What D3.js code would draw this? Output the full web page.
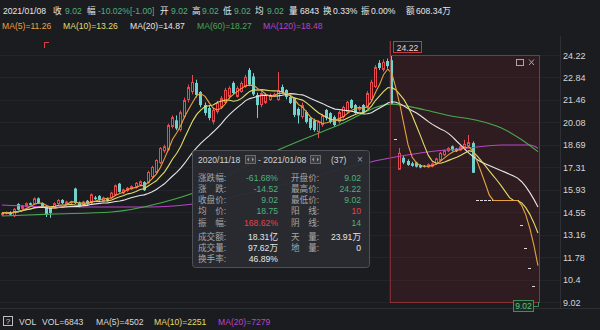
<!DOCTYPE html>
<html>
<head>
<meta charset="utf-8">
<script src="https://cdn.jsdelivr.net/npm/d3@7"></script>
<style>
html, body { margin: 0; padding: 0; background: #1b1c20; }
svg text { font-family: "Liberation Sans", Arial, "Noto Sans CJK SC", sans-serif; }
</style>
</head>
<body>
<div id="chart"></div>
<script>
// Declare constants
const WIDTH = 600;
const HEIGHT = 330;
const PLOT = {left: 0, right: 540, top: 55, bottom: 302};
const AXIS_X = 563;

const BG = "#1b1c20";
const RED = "#e8494f";
const CYAN = "#6fd3cb";
const GREEN_TXT = "#4fb07c";
const GRID = "#24252a";

// daily candles, oldest first
const opens = [
  14.35,14.45,14.55,14.30,15.05,14.75,14.90,15.10,15.05,15.40,
  15.10,14.90,14.80,14.85,15.05,15.30,15.00,15.10,16.00,15.15,
  14.95,15.25,15.10,15.45,15.55,15.20,15.40,15.40,15.60,16.30,
  15.70,15.85,15.95,16.05,16.20,16.40,16.34,16.71,16.96,17.57,
  18.30,18.37,19.79,20.20,19.60,20.40,21.45,21.94,22.50,21.94,
  21.14,20.96,20.10,20.71,20.96,21.27,21.64,22.50,21.64,21.94,
  22.25,23.30,22.90,21.76,21.14,21.27,21.45,21.76,21.45,22.25,
  22.07,21.64,21.57,20.90,20.40,20.71,20.34,20.20,19.48,19.90,
  20.84,20.65,20.40,20.10,20.40,20.71,21.45,21.14,20.84,21.14,
  20.96,21.45,22.25,23.73,23.30,23.85,23.90,19.07,17.16,17.90,
  17.70,17.55,17.60,17.45,17.40,17.30,17.35,17.50,17.70,18.05,
  18.30,18.60,18.45,18.35,18.50,18.60,18.80,15.27,15.27,15.27,
  15.27,15.27,15.27,15.27,15.27,15.27,15.27,15.27,13.74,12.37,
  11.13,10.02,9.02
];
const highs = [
  14.55,14.60,14.60,14.80,15.10,15.00,15.15,15.15,15.45,15.45,
  15.15,14.95,14.85,15.15,15.35,15.35,15.25,15.25,16.05,15.20,
  15.25,15.30,15.70,15.55,15.60,15.50,15.45,15.80,16.25,16.35,
  16.00,16.10,16.20,16.40,16.50,16.45,17.10,17.40,17.80,18.55,
  18.70,20.00,20.50,20.50,20.80,21.60,22.40,22.99,22.70,22.00,
  21.30,21.10,21.00,21.40,21.70,22.20,22.30,22.60,22.30,22.60,
  23.00,23.42,23.10,21.90,22.00,21.90,21.85,21.90,23.17,22.40,
  22.10,21.70,21.60,21.00,21.30,20.80,20.40,20.30,20.20,20.60,
  20.90,20.70,20.50,20.80,21.10,21.40,21.50,21.20,21.10,21.20,
  22.00,22.70,23.60,23.90,23.95,24.00,24.22,19.07,18.50,18.00,
  17.80,17.65,17.65,17.50,17.45,17.55,17.60,17.90,18.25,18.40,
  18.55,18.65,18.50,18.65,19.00,19.30,18.90,15.27,15.27,15.27,
  15.27,15.27,15.27,15.27,15.27,15.27,15.27,15.27,13.74,12.37,
  11.13,10.02,9.02
];
const lows = [
  14.30,14.40,14.35,14.25,14.65,14.70,14.85,14.95,15.00,15.05,
  14.85,14.25,14.20,14.80,15.00,15.05,14.95,15.05,15.05,14.85,
  14.90,15.00,15.05,15.30,15.25,15.15,15.20,15.35,15.55,15.75,
  15.65,15.80,15.90,16.00,16.15,15.85,16.30,16.65,16.90,17.50,
  18.20,18.30,19.70,19.60,19.50,20.30,21.30,21.80,21.60,21.00,
  20.50,20.20,19.95,20.60,20.90,21.20,21.50,21.80,21.60,21.90,
  22.20,22.30,21.70,20.34,21.00,21.20,21.40,21.65,21.40,21.85,
  21.50,21.20,20.40,20.00,20.30,20.00,19.60,19.50,19.11,19.80,
  20.20,20.00,19.80,20.00,20.30,20.60,20.90,20.60,20.75,20.60,
  20.90,21.40,22.20,23.30,23.20,23.40,21.19,19.07,17.16,17.50,
  17.40,17.35,17.30,17.25,17.30,17.25,17.30,17.45,17.65,18.00,
  18.25,18.30,18.25,18.30,18.45,18.55,16.97,15.27,15.27,15.27,
  15.27,15.27,15.27,15.27,15.27,15.27,15.27,15.27,13.74,12.37,
  11.13,10.02,9.02
];
const closes = [
  14.50,14.55,14.40,14.75,14.70,14.95,15.10,15.00,15.40,15.10,
  14.90,14.40,14.50,15.10,15.30,15.10,15.20,15.20,15.10,14.90,
  15.20,15.05,15.65,15.35,15.30,15.45,15.25,15.75,16.20,15.80,
  15.95,16.05,16.15,16.35,16.45,15.90,17.02,17.33,17.76,18.50,
  18.60,19.91,20.40,19.70,20.70,21.45,22.25,22.56,21.76,21.14,
  20.65,20.34,20.84,21.27,21.57,22.07,22.19,21.88,22.19,22.50,
  22.87,22.40,21.80,21.14,21.88,21.76,21.76,21.82,22.07,21.94,
  21.64,21.27,20.53,20.50,21.14,20.10,19.73,19.60,20.10,20.50,
  20.34,20.10,19.91,20.71,21.02,21.33,20.96,20.65,21.02,20.71,
  21.88,22.56,23.48,23.42,23.79,23.54,21.19,19.07,18.20,17.60,
  17.45,17.40,17.35,17.30,17.35,17.50,17.55,17.85,18.20,18.35,
  18.50,18.35,18.30,18.60,18.75,18.86,16.97,15.27,15.27,15.27,
  15.27,15.27,15.27,15.27,15.27,15.27,15.27,15.27,13.74,12.37,
  11.13,10.02,9.02
];

// long averages need history the picture does not show
const ma60Points = [[0,14.31],[12,14.43],[27,14.56],[39,15.11],[49,15.91],[59,17.27],[68,18.37],
  [83,19.91],[96,21.2],[104,20.85],[110,20.5],[117,20.2],[123,19.73],[128,19.0],[132,18.27]];
const ma120Points = [[0,14.99],[14,14.87],[36,14.87],[49,15.11],[64,15.91],[78,16.84],[93,17.76],
  [103,18.19],[115,18.5],[123,18.68],[130,18.68],[132,18.48]];

// selected range 2020/11/18 - 2021/01/08
const rangeStart = 96;
const rangeEnd = 132;

const priceTicks = ["24.22","22.84","21.46","20.08","18.69","17.31","15.93","14.55","13.16","11.78","10.4","9.02"];

const headerText = ["2021/01/08","收","9.02","幅","-10.02%[-1.00]","开","9.02","高","9.02","低","9.02","均","9.02","量","6843","换","0.33%","振","0.00%","额","608.34万"];
const headerGreen = [false,false,true,false,true,false,true,false,true,false,true,false,true,false,false,false,false,false,false,false,false];
const HEADER_X = [3,53,65,87,98,160,171,192,202,223,234,255,267,289,300,323,333,361,371,406,416];

const maNames = ["MA(5)","MA(10)","MA(20)","MA(60)","MA(120)"];
const maLast = ["11.26","13.26","14.87","18.27","18.48"];
const MA_COLORS = ["#e8a33d","#e3dd6a","#e6e6e6","#4aa84e","#b745c8"];
const MA_X = [2,63,130,197,263];

const volText = ["VOL","VOL=6843","MA(5)=4502","MA(10)=2251","MA(20)=7279"];
const VOL_COLORS = ["#d8d8d8","#d8d8d8","#d8d8d8","#e3dd6a","#b745c8"];
const VOL_X = [19,42,96,154,218];

const statLabels = [["涨跌幅:","开盘价:"],["涨　跌:","最高价:"],["收盘价:","最低价:"],["均　价:","阳　线:"],
  ["振　幅:","阴　线:"],["成交额:","天　量:"],["成交量:","地　量:"],["换手率:",""]];
const statValues = [["-61.68%","9.02"],["-14.52","24.22"],["9.02","9.02"],["18.75","10"],
  ["168.62%","14"],["18.31亿","23.91万"],["97.62万","0"],["46.89%",""]];
const statColors = [["g","g"],["g","g"],["g","g"],["g","r"],["r","g"],["w","w"],["w","w"],["w","w"]];
const STAT_Y = [181, 192, 203, 214, 225.5, 240, 251, 262];

// svg
const svg = d3.select("#chart")
  .append("svg")
    .attr("width", WIDTH)
    .attr("height", HEIGHT);

svg.append("rect").attr("width", WIDTH).attr("height", HEIGHT).attr("fill", BG);

const x = d3.scaleBand()
  .domain(d3.range(closes.length))
  .range([PLOT.left, PLOT.right]);
const cx = i => Math.floor(x(i) + x.bandwidth() / 2);

const y = d3.scaleLinear()
  .domain([9.02, 24.22])
  .range([PLOT.bottom, PLOT.top]);

function addText(g, tx, ty, str, color, size, anchor) {
  return g.append("text")
    .attr("x", tx)
    .attr("y", ty)
    .attr("fill", color)
    .attr("font-size", size)
    .attr("text-anchor", anchor || "start")
    .text(str);
}

// grid + right axis
svg.append("g").selectAll("line")
  .data(priceTicks)
  .join("line")
    .attr("x1", 0).attr("x2", 560)
    .attr("y1", d => Math.round(y(+d)) + 0.5)
    .attr("y2", d => Math.round(y(+d)) + 0.5)
    .attr("stroke", GRID);

svg.append("g").selectAll("text")
  .data(priceTicks)
  .join("text")
    .attr("x", AXIS_X)
    .attr("y", d => y(+d) + 3.5)
    .attr("fill", "#d6d6d6")
    .attr("font-size", 9)
    .text(d => d);

svg.append("line").attr("x1", 560.5).attr("x2", 560.5).attr("y1", 36).attr("y2", 308)
  .attr("stroke", "#2e2f34");
svg.append("line").attr("x1", 0).attr("x2", WIDTH).attr("y1", 308.5).attr("y2", 308.5)
  .attr("stroke", "#2e2f34");

// selected range background
const boxX0 = x(rangeStart);
const boxX1 = x(rangeEnd) + x.bandwidth();
svg.append("rect")
  .attr("x", boxX0).attr("y", y(24.22))
  .attr("width", boxX1 - boxX0).attr("height", y(9.02) - y(24.22))
  .attr("fill", "rgba(125,30,38,0.2)");

// candles
const days = d3.range(closes.length);
const candle = svg.append("g").selectAll("g")
  .data(days)
  .join("g");

function candleColor(i) {
  if (closes[i] > opens[i]) return RED;
  if (closes[i] < opens[i]) return CYAN;
  return "#dcdcdc";
}

candle.filter(i => highs[i] !== lows[i])
  .append("line")
    .attr("x1", i => cx(i) + 0.5).attr("x2", i => cx(i) + 0.5)
    .attr("y1", i => y(highs[i])).attr("y2", i => y(lows[i]))
    .attr("stroke", candleColor);

// falling days: filled
candle.filter(i => closes[i] < opens[i])
  .append("rect")
    .attr("x", i => cx(i) - 1)
    .attr("width", 3)
    .attr("y", i => y(opens[i]))
    .attr("height", i => Math.max(1, y(closes[i]) - y(opens[i])))
    .attr("fill", CYAN);

// rising days: hollow
candle.filter(i => closes[i] > opens[i])
  .append("rect")
    .attr("x", i => cx(i) - 0.5)
    .attr("width", 2)
    .attr("y", i => y(closes[i]) + 0.5)
    .attr("height", i => Math.max(0.5, y(opens[i]) - y(closes[i]) - 1))
    .attr("fill", BG)
    .attr("stroke", RED);

// flat days
candle.filter(i => closes[i] === opens[i])
  .append("line")
    .attr("x1", i => cx(i) - 1).attr("x2", i => cx(i) + 2)
    .attr("y1", i => Math.round(y(closes[i])) + 0.5)
    .attr("y2", i => Math.round(y(closes[i])) + 0.5)
    .attr("stroke", "#dcdcdc");

// moving averages
function movingAverage(n) {
  return closes.map((c, i) => [i, d3.mean(closes.slice(Math.max(0, i - n + 1), i + 1))]);
}

const maLine = d3.line()
  .x(d => x(d[0]) + x.bandwidth() / 2)
  .y(d => y(d[1]));
const smoothLine = d3.line()
  .x(d => x(d[0]) + x.bandwidth() / 2)
  .y(d => y(d[1]))
  .curve(d3.curveMonotoneX);

const maSeries = [movingAverage(5), movingAverage(10), movingAverage(20)];
svg.append("path").datum(ma120Points).attr("d", smoothLine)
  .attr("fill", "none").attr("stroke", MA_COLORS[4]).attr("stroke-width", 1.1);
svg.append("path").datum(ma60Points).attr("d", smoothLine)
  .attr("fill", "none").attr("stroke", MA_COLORS[3]).attr("stroke-width", 1.1);
[2, 1, 0].forEach(k => {
  svg.append("path").datum(maSeries[k]).attr("d", maLine)
    .attr("fill", "none").attr("stroke", MA_COLORS[k]).attr("stroke-width", 1.1);
});

// range frame
svg.append("rect")
  .attr("x", boxX0 + 0.5).attr("y", Math.round(y(24.22)) + 0.5)
  .attr("width", boxX1 - boxX0 - 1).attr("height", y(9.02) - y(24.22))
  .attr("fill", "none")
  .attr("stroke", "#8c3236");
svg.append("line")
  .attr("x1", boxX0 + 0.5).attr("x2", boxX0 + 0.5)
  .attr("y1", 41).attr("y2", y(24.22))
  .attr("stroke", "#c0393d");

// window icons in the frame
svg.append("rect").attr("x", 516.5).attr("y", 59.5).attr("width", 7).attr("height", 6)
  .attr("fill", "none").attr("stroke", "#a8a8a8");
svg.append("path").attr("d", "M529,59.5 L534,65 M534,59.5 L529,65")
  .attr("stroke", "#a8a8a8");

// high label
svg.append("rect").attr("x", 393.5).attr("y", 41.5).attr("width", 28).attr("height", 11)
  .attr("fill", BG).attr("stroke", "#c9383d");
addText(svg, 407.5, 50.5, "24.22", "#ecd2d2", 8.5, "middle");

// last price label
svg.append("rect").attr("x", 513.5).attr("y", 300.5).attr("width", 20).attr("height", 11)
  .attr("fill", "#1c2a22").attr("stroke", "#3f8f55");
addText(svg, 523.5, 309.2, "9.02", "#5cc27c", 8.5, "middle");
svg.append("path").attr("d", "M533.5,306.5 H538.5 V302")
  .attr("fill", "none").attr("stroke", "#3f8f55");

// small red marker
svg.append("path").attr("d", "M44.5,48 V42.5 H49")
  .attr("fill", "none").attr("stroke", "#e04040");

// header
const header = svg.append("g");
headerText.forEach((t, k) => {
  addText(header, HEADER_X[k], 14, t, headerGreen[k] ? GREEN_TXT : "#e6e6e6", 8.6);
});
maNames.forEach((t, k) => {
  addText(header, MA_X[k], 29, t + "=" + maLast[k], MA_COLORS[k], 8.6);
});

// volume legend
const vol = svg.append("g");
vol.append("rect").attr("x", 3.5).attr("y", 316.5).attr("width", 9).attr("height", 9)
  .attr("fill", "none").attr("stroke", "#bdbdbd");
addText(vol, 8, 324, "?", "#d0d0d0", 8, "middle");
volText.forEach((t, k) => addText(vol, VOL_X[k], 324.5, t, VOL_COLORS[k], 8.6));

// statistics panel
const panel = svg.append("g");
panel.append("rect")
  .attr("x", 192.5).attr("y", 150.5).attr("width", 177).attr("height", 117).attr("rx", 3)
  .attr("fill", "#2a2b30").attr("fill-opacity", 0.97)
  .attr("stroke", "#505156");

addText(panel, 198, 163, "2020/11/18", "#d2d2d2", 8.6);
addText(panel, 258, 163, "- 2021/01/08", "#d2d2d2", 8.6);
addText(panel, 331, 163, "(37)", "#d2d2d2", 8.6);
addText(panel, 357, 163, "×", "#9a9a9a", 10);
[245, 310].forEach(sx => {
  panel.append("rect").attr("x", sx + 0.5).attr("y", 155.5).attr("width", 10).attr("height", 8)
    .attr("fill", "#3a3b40").attr("stroke", "#6a6a6e");
  panel.append("path")
    .attr("d", `M${sx + 4},157.5 L${sx + 2},159.5 L${sx + 4},161.5 Z M${sx + 7},157.5 L${sx + 9},159.5 L${sx + 7},161.5 Z`)
    .attr("fill", "#9a9a9a");
});

const VALUE_COLORS = {g: GREEN_TXT, r: "#e5424a", w: "#e6e6e6"};
statLabels.forEach((row, r) => {
  addText(panel, 198, STAT_Y[r], row[0], "#a6a6a6", 8.6);
  addText(panel, 278, STAT_Y[r], statValues[r][0], VALUE_COLORS[statColors[r][0]], 8.6, "end");
  if (row[1]) {
    addText(panel, 291, STAT_Y[r], row[1], "#a6a6a6", 8.6);
    addText(panel, 361, STAT_Y[r], statValues[r][1], VALUE_COLORS[statColors[r][1]], 8.6, "end");
  }
});
</script>
</body>
</html>
